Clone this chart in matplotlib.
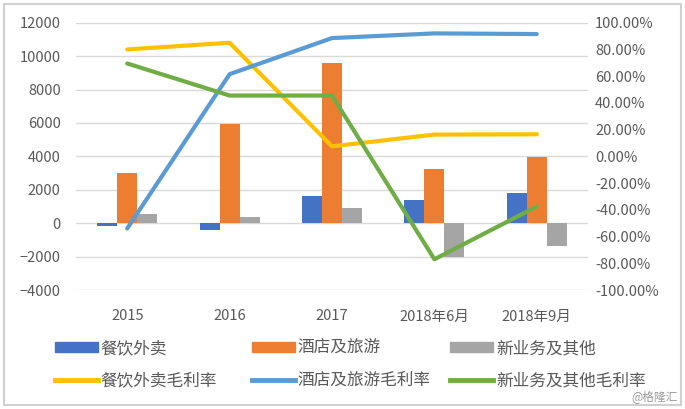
import matplotlib
matplotlib.use("Agg")
import matplotlib.pyplot as plt
import numpy as np
from matplotlib.patches import Rectangle
from matplotlib.lines import Line2D

plt.rcParams['font.family'] = ['Noto Sans CJK SC', 'DejaVu Sans']

periods = ["2015", "2016", "2017", "2018年6月", "2018年9月"]
food = [-150, -430, 1650, 1370, 1790]
hotel = [3000, 5930, 9590, 3260, 3980]
other = [560, 350, 880, -2000, -1350]
food_margin = [80.0, 85.0, 7.5, 16.3, 16.5]
hotel_margin = [-54.0, 61.5, 88.5, 92.0, 91.5]
other_margin = [69.5, 45.5, 45.5, -77.0, -37.5]

c_blue, c_orange, c_gray = "#4472C4", "#ED7D31", "#A5A5A5"
c_yellow, c_lblue, c_green = "#FFC000", "#5B9BD5", "#70AD47"
tick_col = "#595959"

W, H = 685, 409
fig = plt.figure(figsize=(W / 100, H / 100), dpi=100)
ax = fig.add_axes([76 / W, 1 - 290 / H, 512 / W, 267.3 / H])
ax2 = ax.twinx()

x = np.arange(len(periods))
bw = 0.195
ax.bar(x - bw, food, bw, color=c_blue, zorder=2)
ax.bar(x, hotel, bw, color=c_orange, zorder=2)
ax.bar(x + bw, other, bw, color=c_gray, zorder=2)

ax.set_ylim(-4000, 12000)
ax.set_yticks(np.arange(-4000, 12001, 2000))
ax.set_xlim(-0.5, len(periods) - 0.5)
ax.set_xticks(x)
ax.set_xticklabels(periods)
ax.yaxis.grid(True, color="#D9D9D9", linewidth=1)
ax.set_axisbelow(True)
ax.tick_params(axis='y', length=0, labelsize=10.5, colors=tick_col, pad=11)
ax.tick_params(axis='x', length=0, labelsize=10.5, colors=tick_col, pad=14)

ax2.plot(x, food_margin, color=c_yellow, lw=3, solid_capstyle='round')
ax2.plot(x, hotel_margin, color=c_lblue, lw=3, solid_capstyle='round')
ax2.plot(x, other_margin, color=c_green, lw=3, solid_capstyle='round')
ax2.set_ylim(-100, 100)
ax2.set_yticks(np.arange(-100, 101, 20))
ax2.set_yticklabels([f"{v:.2f}%" for v in np.arange(-100, 101, 20)])
ax2.tick_params(axis='y', length=0, labelsize=10.5, colors=tick_col, pad=5)

for a in (ax, ax2):
    for s in a.spines.values():
        s.set_visible(False)

# legend, three columns placed like the original
cols = [
    (c_blue, c_yellow, "餐饮外卖", "餐饮外卖毛利率", 55),
    (c_orange, c_lblue, "酒店及旅游", "酒店及旅游毛利率", 252),
    (c_gray, c_green, "新业务及其他", "新业务及其他毛利率", 450),
]
for bc, lc, bl, ll, px in cols:
    hs = [Rectangle((0, 0), 1, 1, color=bc), Line2D([0], [0], color=lc, lw=3.5)]
    fig.legend(hs, [bl, ll], loc='upper left', bbox_to_anchor=(px / W, 1 - 340 / H),
               frameon=False, fontsize=12, handlelength=2.6, handleheight=0.5,
               handletextpad=0.15, labelspacing=0.9, borderpad=0, borderaxespad=0,
               labelcolor=tick_col)

fig.text(678 / W, 1 - 397 / H, "@格隆汇", ha='right', va='center', fontsize=8.5, color="#999999")
fig.add_artist(Rectangle((4 / W, 4 / H), (W - 8) / W, (H - 8) / H, transform=fig.transFigure,
                         fill=False, edgecolor="#D0D0D0", linewidth=1.5))

fig.savefig("out.png", dpi=100)
